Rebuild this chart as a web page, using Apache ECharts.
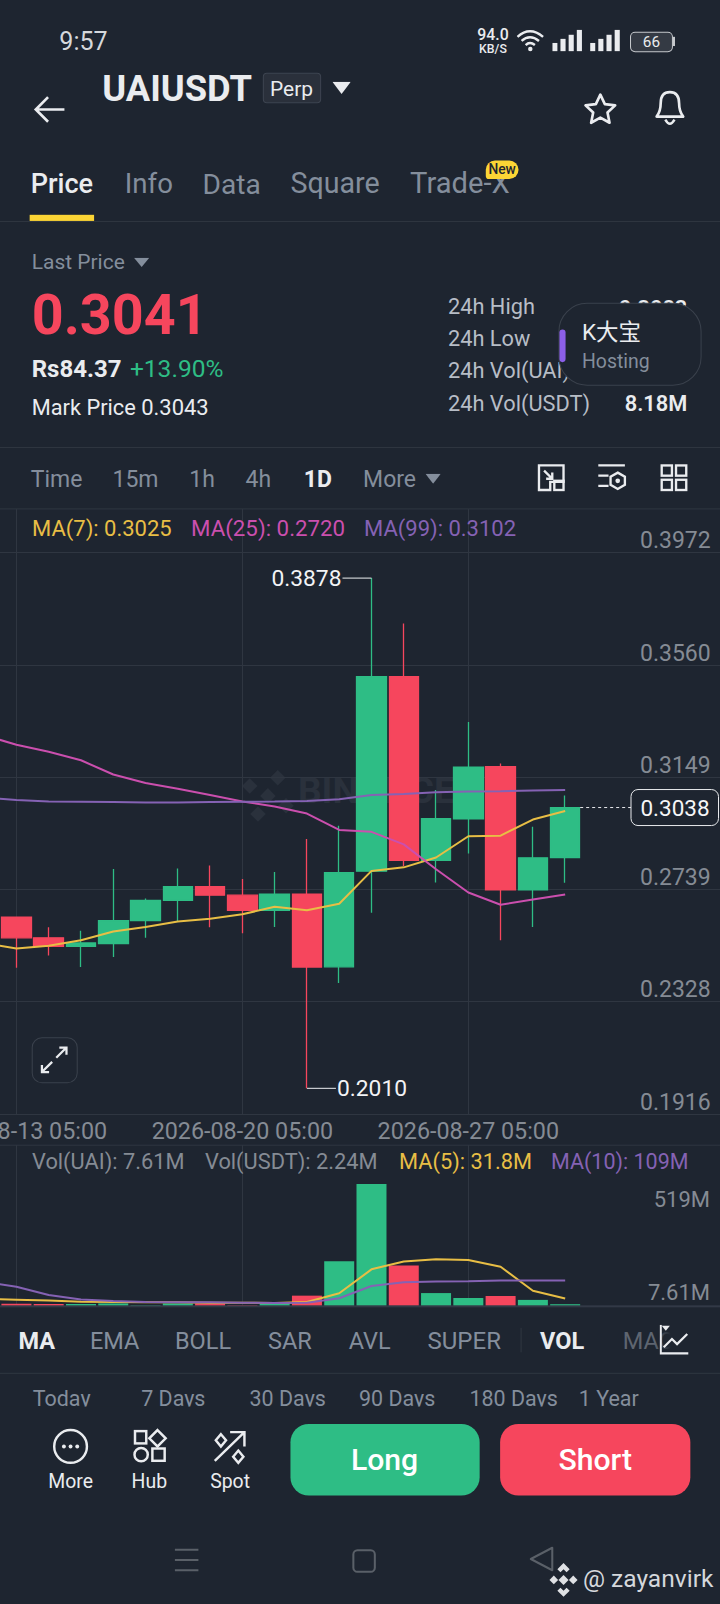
<!DOCTYPE html>
<html><head><meta charset="utf-8">
<style>
html,body{margin:0;padding:0;background:#1e2530;width:720px;height:1604px;overflow:hidden}
#chart{position:absolute;left:0;top:0;width:720px;height:1604px}
#ui{position:absolute;left:0;top:0;width:704px;height:1568px;transform:scale(1.02273,1.02296);transform-origin:0 0;pointer-events:none;font-family:Roboto,"Noto Sans CJK SC",sans-serif}
#ui div,#ui svg{position:absolute}
.t{white-space:nowrap;line-height:1}
</style></head><body>
<div id="chart"></div><div id="ui"></div>
<script src="https://cdn.jsdelivr.net/npm/echarts@6/dist/echarts.min.js"></script>
<script>
// ---------- chart data ----------
const dates = ["2026-08-12 05:00","2026-08-13 05:00","2026-08-14 05:00","2026-08-15 05:00","2026-08-16 05:00","2026-08-17 05:00","2026-08-18 05:00","2026-08-19 05:00","2026-08-20 05:00","2026-08-21 05:00","2026-08-22 05:00","2026-08-23 05:00","2026-08-24 05:00","2026-08-25 05:00","2026-08-26 05:00","2026-08-27 05:00","2026-08-28 05:00","2026-08-29 05:00","2026-08-30 05:00","2026-08-31 05:00","2026-09-01 05:00","2026-09-02 05:00","2026-09-03 05:00","2026-09-04 05:00"];
const xTickLabels = ["2026-08-13 05:00","2026-08-20 05:00","2026-08-27 05:00"];
const priceTicks = [0.1916,0.2328,0.2739,0.3149,0.3560,0.3972];
const volTicks = [519,7.61];
// open, close, low, high
const ohlc = [
 [0.2700,0.2637,0.2600,0.2750],
 [0.2637,0.2561,0.2451,0.2637],
 [0.2561,0.2530,0.2496,0.2600],
 [0.2530,0.2542,0.2454,0.2587],
 [0.2540,0.2624,0.2491,0.2813],
 [0.2624,0.2698,0.2561,0.2705],
 [0.2698,0.2748,0.2621,0.2815],
 [0.2748,0.2717,0.2600,0.2826],
 [0.2717,0.2662,0.2578,0.2776],
 [0.2662,0.2721,0.2601,0.2802],
 [0.2721,0.2454,0.2010,0.2923],
 [0.2455,0.2800,0.2396,0.2971],
 [0.2805,0.3517,0.2653,0.3878],
 [0.3517,0.2845,0.2824,0.3712],
 [0.2845,0.2997,0.2764,0.3102],
 [0.2997,0.3186,0.2870,0.3351],
 [0.3188,0.2737,0.2552,0.3199],
 [0.2737,0.2854,0.2601,0.2968],
 [0.2855,0.3038,0.2763,0.3082]
];
const ma7  = [0.2542,0.2522,0.2532,0.2552,0.2584,0.2601,0.2621,0.2631,0.2647,0.2675,0.2662,0.2686,0.2806,0.2819,0.2855,0.2933,0.2935,0.2994,0.3025];
const ma25 = [0.3303,0.3268,0.3242,0.3211,0.3159,0.3128,0.3107,0.3084,0.3060,0.3042,0.3016,0.2956,0.2949,0.2903,0.2812,0.2727,0.2682,0.2701,0.2720];
const ma99 = [0.3075,0.3066,0.3060,0.3059,0.3058,0.3056,0.3056,0.3058,0.3059,0.3060,0.3062,0.3068,0.3084,0.3088,0.3094,0.3097,0.3098,0.3100,0.3102];
const volumes = [30,10,8.5,8.5,11,3,11,11,3,13,44,190,519,172,55,34,43,26,7.61];
const volMa5  = [30,27,23,18,17,16,16,14,14,13,17,54,156,189,199,196,167,65,31.8];
const volMa10 = [102,82,47,28,21,17,16,16,14,13,14,33,85,101,104,105,108,109,109];
const lastPrice = 0.3038;

const BG='#1e2530',UP='#2ebd85',DOWN='#f6465d',GRID='#2f3641',AXIS='#858b94';
const YEL='#e8be45',PINK='#cb4fae',PUR='#8562b4',FONT='Roboto';

const chart = echarts.init(document.getElementById('chart'),null,{renderer:'svg'});
const lineS=(name,data,color,x,y)=>({name,type:'line',data,xAxisIndex:x,yAxisIndex:y,showSymbol:false,symbol:'none',smooth:false,lineStyle:{color,width:2},z:5,silent:true});
const xBase={type:'category',data:dates,boundaryGap:true,axisLine:{show:false},axisTick:{show:false},
  splitLine:{show:true,alignWithLabel:true,interval:(i,v)=>xTickLabels.includes(v),lineStyle:{color:GRID,width:1}}};
chart.setOption({
  animation:false,backgroundColor:BG,
  grid:[{left:-32,top:509,width:774.7,height:605,outerBoundsMode:'none',containLabel:false},{left:-32,top:1145,width:774.7,height:161,outerBoundsMode:'none',containLabel:false}],
  xAxis:[
    Object.assign({},xBase,{gridIndex:0,axisLabel:{show:true,interval:(i,v)=>xTickLabels.includes(v),color:AXIS,fontFamily:FONT,fontSize:23.3,margin:5,hideOverlap:false}}),
    Object.assign({},xBase,{gridIndex:1,axisLabel:{show:false}})
  ],
  yAxis:[
    {type:'value',gridIndex:0,min:0.1916,max:0.4131,position:'right',axisLine:{show:false},
     axisTick:{show:false,customValues:priceTicks},
     axisLabel:{inside:true,customValues:priceTicks,formatter:v=>v.toFixed(4),color:AXIS,fontFamily:FONT,fontSize:23,margin:32,verticalAlign:'bottom',lineHeight:23,padding:[0,0,0,0]},
     splitLine:{show:true,lineStyle:{color:GRID,width:1}}},
    {type:'value',gridIndex:1,min:0,max:685,position:'right',axisLine:{show:false},axisTick:{show:false,customValues:[0]},
     axisLabel:{show:false},splitLine:{show:false}}
  ],
  graphic:[
    {type:'text',left:298,top:772,z:0,silent:true,style:{text:'BINANCE',fill:'#2a313c',font:'bold 37px Roboto'}},
    {type:'group',left:242,top:770,z:0,silent:true,children:[
      {type:'rect',x:16,y:16,shape:{width:11,height:11},rotation:Math.PI/4,originX:21.5,originY:21.5,style:{fill:'#2a313c'}},
      {type:'rect',x:16,y:2,shape:{width:11,height:11},rotation:Math.PI/4,originX:21.5,originY:7.5,style:{fill:'#2a313c'}},
      {type:'rect',x:16,y:30,shape:{width:11,height:11},rotation:Math.PI/4,originX:21.5,originY:35.5,style:{fill:'#2a313c'}},
      {type:'rect',x:2,y:16,shape:{width:11,height:11},rotation:Math.PI/4,originX:7.5,originY:21.5,style:{fill:'#2a313c'}},
      {type:'rect',x:30,y:16,shape:{width:11,height:11},rotation:Math.PI/4,originX:35.5,originY:21.5,style:{fill:'#2a313c'}}
    ]},
    {type:'text',left:32,top:517,z:10,style:{text:'MA(7): 0.3025',fill:YEL,font:'22px Roboto'}},
    {type:'text',left:191,top:517,z:10,style:{text:'MA(25): 0.2720',fill:PINK,font:'22.3px Roboto'}},
    {type:'text',left:364,top:517,z:10,style:{text:'MA(99): 0.3102',fill:PUR,font:'22px Roboto'}},
    {type:'text',left:32,top:1150,z:10,style:{text:'Vol(UAI): 7.61M',fill:AXIS,font:'21.8px Roboto'}},
    {type:'text',left:205,top:1150,z:10,style:{text:'Vol(USDT): 2.24M',fill:AXIS,font:'21.8px Roboto'}},
    {type:'text',left:399,top:1150,z:10,style:{text:'MA(5): 31.8M',fill:YEL,font:'21.8px Roboto'}},
    {type:'text',left:551,top:1150,z:10,style:{text:'MA(10): 109M',fill:PUR,font:'21.5px Roboto'}}
  ],
  series:[
    {name:'K',type:'candlestick',data:ohlc,xAxisIndex:0,yAxisIndex:0,barWidth:30,z:3,silent:true,
     itemStyle:{color:UP,color0:DOWN,borderColor:UP,borderColor0:DOWN,borderWidth:1.3}},
    lineS('MA(7)',ma7,YEL,0,0),lineS('MA(25)',ma25,PINK,0,0),lineS('MA(99)',ma99,PUR,0,0),
    {name:'Extremes',type:'custom',coordinateSystem:'cartesian2d',xAxisIndex:0,yAxisIndex:0,z:6,silent:true,clip:false,
     data:[[ohlc.findIndex(d=>d[3]===Math.max(...ohlc.map(o=>o[3]))),Math.max(...ohlc.map(o=>o[3])),-1],
           [ohlc.findIndex(d=>d[2]===Math.min(...ohlc.map(o=>o[2]))),Math.min(...ohlc.map(o=>o[2])),1]],
     renderItem:(p,api)=>{const c=api.coord([api.value(0),api.value(1)]);const dir=api.value(2);
       return {type:'group',children:[
        {type:'line',shape:{x1:c[0],y1:c[1],x2:c[0]+dir*29,y2:c[1]},style:{stroke:'#eef0f2',lineWidth:1}},
        {type:'text',x:c[0]+dir*30,y:c[1],style:{text:api.value(1).toFixed(4),fill:'#f2f3f5',font:'22.8px Roboto',textAlign:dir<0?'right':'left',textVerticalAlign:'middle'}}
       ]};}},
    {name:'Last',type:'custom',coordinateSystem:'cartesian2d',xAxisIndex:0,yAxisIndex:0,z:7,silent:true,clip:false,
     data:[[ohlc.length-1,lastPrice]],
     renderItem:(p,api)=>{const c=api.coord([api.value(0),api.value(1)]);
       return {type:'group',children:[
        {type:'line',shape:{x1:c[0]+15,y1:c[1],x2:631,y2:c[1]},style:{stroke:'#e8eaed',lineWidth:1,lineDash:[3,3]}},
        {type:'rect',shape:{x:631,y:c[1]-18,width:87.5,height:36,r:7},style:{fill:BG,stroke:'#e8eaed',lineWidth:1}},
        {type:'text',x:675,y:c[1],style:{text:api.value(1).toFixed(4),fill:'#f5f6f7',font:'22.5px Roboto',textAlign:'center',textVerticalAlign:'middle'}}
       ]};}},
    {name:'Volume',type:'bar',data:volumes.map((v,i)=>({value:v,itemStyle:{color:ohlc[i][1]>=ohlc[i][0]?UP:DOWN}})),xAxisIndex:1,yAxisIndex:1,barWidth:30,z:3,silent:true},
    lineS('MA(5)',volMa5,YEL,1,1),lineS('MA(10)',volMa10,PUR,1,1),
    {name:'VolLabels',type:'custom',coordinateSystem:'cartesian2d',xAxisIndex:1,yAxisIndex:1,z:7,silent:true,clip:false,
     data:volTicks.map((v,i)=>[0,v,i===0?15:-12]),
     renderItem:(p,api)=>{const c=api.coord([0,api.value(1)]);const v=api.value(1);
       return {type:'text',x:710,y:c[1]+api.value(2),style:{text:(v>=100?v.toFixed(0):v.toFixed(2))+'M',fill:AXIS,font:'22px Roboto',textAlign:'right',textVerticalAlign:'middle'}};}}
  ]
});

// ---------- app chrome (text + icons) in 704x1568 design units ----------
const ui=document.getElementById('ui');
function T(s,x,y,size,color,weight,anchor){const d=document.createElement('div');d.className='t';d.textContent=s;
  d.style.cssText+=`font-size:${size}px;color:${color};font-weight:${weight||400};top:${y}px;`+
  (anchor==='r'?`right:${704-x}px;transform:translateY(-50%)`:anchor==='c'?`left:${x}px;transform:translate(-50%,-50%)`:`left:${x}px;transform:translateY(-50%)`);
  ui.appendChild(d);return d;}
function B(x,y,w,h,css){const d=document.createElement('div');d.style.cssText=`left:${x}px;top:${y}px;width:${w}px;height:${h}px;${css||''}`;ui.appendChild(d);return d;}
function S(x,y,w,h,inner){const n=document.createElementNS('http://www.w3.org/2000/svg','svg');n.setAttribute('viewBox',`0 0 ${w} ${h}`);n.setAttribute('width',w);n.setAttribute('height',h);n.style.left=x+'px';n.style.top=y+'px';n.innerHTML=inner;ui.appendChild(n);}
const W='#eaecef',G='#848e9c',LG='#b7bdc6';
// status bar
T('9:57',58,41,24.5,'#d5d8dc',400);
T('94.0',482,35,15.5,W,500,'c');T('KB/S',482,48,12,W,500,'c');
S(505,28,30,24,'<g fill="none" stroke="#eaecef" stroke-width="2.4"><path d="M1 8Q13 -3 26 8"/><path d="M5 12Q13 5 22 12"/><path d="M9 16Q13 12 18 16"/></g><circle cx="13.5" cy="20" r="2.2" fill="#eaecef"/>');
[540,577].forEach(x=>S(x,29,30,22,'<g fill="#eaecef"><rect x="0" y="13" width="5" height="8"/><rect x="8" y="9" width="5" height="12"/><rect x="16" y="5" width="5" height="16"/><rect x="24" y="0" width="5" height="21"/></g>'));
B(616,31,40,18,'border:1.4px solid #c5c8cc;border-radius:5px;background:#343a44');T('66',637,41,15,W,400,'c');B(658,36,2,9,'background:#c5c8cc');
// header
T('UAIUSDT',100,87,35.5,W,700);
B(257,71,55,28,'border:1px solid #3d4450;border-radius:4px;background:#2a303b');T('Perp',285,87,20.5,W,400,'c');
S(325,80,18,13,'<path d="M0 0H18L9 12Z" fill="#eaecef"/>');
S(32,92,34,30,'<path d="M31 15H3M15 3L3 15L15 27" fill="none" stroke="#eaecef" stroke-width="2.6"/>');
S(570,90,34,32,'<path d="M17 2.5L21.4 11.8L31.5 13L24 20L26 30L17 25L8 30L10 20L2.5 13L12.6 11.8Z" fill="none" stroke="#eaecef" stroke-width="2.6" stroke-linejoin="round"/>');
S(638,87,34,38,'<path d="M4 27Q8 22 8 14Q8 3 17 3Q26 3 26 14Q26 22 30 27Z" fill="none" stroke="#eaecef" stroke-width="2.6" stroke-linejoin="round"/><path d="M12.5 30Q17 38 21.5 30" fill="none" stroke="#eaecef" stroke-width="2.4"/>');
// tabs
T('Price',30,180,26.5,W,500);T('Info',122,180,27,G);T('Data',198,180,27.5,G);T('Square',284,180,28,G);T('Trade-X',401,180,28.5,G);
B(475,157,32,18,'background:#fcd535;border-radius:9px 9px 9px 3px');T('New',491,166,13.5,'#1e2530',500,'c');
B(29,210,63,6,'background:#fcd535');B(0,216,704,1,'background:#2f3641');
// price block
T('Last Price',31,256,20.5,G);S(131,252,15,9,'<path d="M0 0H15L7.5 9Z" fill="#848e9c"/>');
T('0.3041',31,308,54.5,'#f6465d',700);
T('Rs84.37',31,361,23.5,W,700);T('+13.90%',127,361,24,'#2ebd85',400);
T('Mark Price',31,398,21.3,W);T('0.3043',138,398,21.5,W);
T('24h High',438,300,21.3,LG);T('24h Low',438,331,21.3,LG);T('24h Vol(UAI)',438,362,21.3,LG);T('24h Vol(USDT)',438,394,21.3,LG);
T('0.3083',672,302,21.3,W,600,'r');T('8.18M',672,394,21.3,W,600,'r');
B(546,296,138,79,'background:#1e2530;border:1.5px solid #3a414c;border-radius:28px');
B(547,322,6,32,'background:#8c5fe8;border-radius:3px');
T('K大宝',569,325,22,W,400);T('Hosting',569,353,19,G);
B(0,437,704,1,'background:#2f3641');
// interval row
T('Time',30,468,22.5,G);T('15m',110,468,22.5,G);T('1h',185,468,22.5,G);T('4h',240,468,22.5,G);T('1D',297,468,22.5,W,700);T('More',355,468,22.5,G);
S(416,463,15,10,'<path d="M0 0H15L7.5 10Z" fill="#848e9c"/>');
S(525,453,28,28,'<g fill="none" stroke="#eaecef" stroke-width="2.3"><path d="M10 2H2V26H13V18H26V2Z"/><rect x="17" y="17" width="9" height="9"/><path d="M7 7L15 15M15 9V15H9"/></g>');
S(584,453,30,28,'<g fill="none" stroke="#eaecef" stroke-width="2.3"><path d="M1 2H27M1 12H11M1 22H11"/><path d="M20 9L27 13V21L20 25L13 21V13Z"/><circle cx="20" cy="17" r="2.3" fill="#eaecef" stroke="none"/></g>');
S(645,453,28,28,'<g fill="none" stroke="#eaecef" stroke-width="2.3"><rect x="2" y="2" width="10" height="10"/><rect x="16" y="2" width="10" height="10"/><rect x="2" y="16" width="10" height="10"/><rect x="16" y="16" width="10" height="10"/></g>');
B(0,497,704,1,'background:#2f3641');
// expand button
B(31,1014,43,43,'border:1.5px solid #3a414c;border-radius:10px');
S(38,1021,30,30,'<path d="M20 3H27V10M27 3L17 13M3 20V27H10M3 27L13 17" fill="none" stroke="#eaecef" stroke-width="2.2"/>');
// separators of the vol pane
B(0,1119,704,1,'background:#2f3641');
B(0,1275.6,704,2,'background:#323946');
// indicator row
T('MA',18,1311,23,W,700);T('EMA',88,1311,23,G);T('BOLL',171,1311,23,G);T('SAR',262,1311,23,G);T('AVL',341,1311,23,G);T('SUPER',418,1311,23.5,G);
B(509,1298,1,24,'background:#2f3641');T('VOL',528,1311,23,W,700);T('MACD',609,1311,23,'#5e6570');
B(640,1292,64,40,'background:linear-gradient(90deg,rgba(30,37,48,0),#1e2530 25%)');
S(645,1295,30,30,'<g fill="none" stroke="#eaecef" stroke-width="2.2"><path d="M1 0V28H28"/><path d="M4 22L12 14L17 19L27 9"/></g><path d="M2 1H10L6 6Z" fill="#eaecef"/>');
B(0,1342,704,1,'background:#2f3641');
// range row (clipped by the bottom bar)
T('Today',32,1368,21,G);T('7 Days',138,1368,21,G);T('30 Days',244,1368,21,G);T('90 Days',351,1368,21,G);T('180 Days',459,1368,21,G);T('1 Year',566,1368,21,G);
B(0,1375,704,193,'background:#1e2530');
// bottom actions
S(51,1396,36,36,'<circle cx="18" cy="18" r="16" fill="none" stroke="#eaecef" stroke-width="2.4"/><circle cx="11.5" cy="18" r="1.9" fill="#eaecef"/><circle cx="18" cy="18" r="1.9" fill="#eaecef"/><circle cx="24.5" cy="18" r="1.9" fill="#eaecef"/>');
S(129,1396,36,36,'<g fill="none" stroke="#eaecef" stroke-width="2.4"><rect x="3" y="3" width="11" height="12"/><path d="M25 2L33 10L25 18L17 10Z"/><circle cx="9" cy="26" r="6.5"/><rect x="20" y="20" width="12" height="12"/></g>');
S(207,1396,36,36,'<g fill="none" stroke="#eaecef" stroke-width="2.4"><path d="M3 32L32 4M18 4H32V18"/><path d="M9 6L14 12L9 18L4 12Z"/><path d="M26 22L31 28L26 34L21 28Z"/></g>');
T('More',69,1448,19,W,400,'c');T('Hub',146,1448,19,W,400,'c');T('Spot',225,1448,19,W,400,'c');
B(284,1392,185,70,'background:#2ebd85;border-radius:18px');T('Long',376,1428,29.5,'#fff',500,'c');
B(489,1392,186,70,'background:#f6465d;border-radius:18px');T('Short',582,1428,29.5,'#fff',500,'c');
// navigation bar + watermark
S(170,1513,25,24,'<path d="M1 2H24M1 12H24M1 22H24" stroke="#5a6068" stroke-width="2"/>');
S(344,1514,24,24,'<rect x="1.5" y="1.5" width="21" height="21" rx="4" fill="none" stroke="#5a6068" stroke-width="2"/>');
S(517,1511,25,26,'<path d="M23 2V24L2 13Z" fill="none" stroke="#5a6068" stroke-width="2" stroke-linejoin="round"/>');
S(536,1528,30,34,'<g fill="#dfe1e4"><path d="M15 0L21 6L18 9L15 6L12 9L9 6Z"/><path d="M15 33L21 27L18 24L15 27L12 24L9 27Z"/><rect x="11.5" y="13" width="7" height="7" transform="rotate(45 15 16.5)"/><rect x="2.5" y="13.5" width="6" height="6" transform="rotate(45 5.5 16.5)"/><rect x="21.5" y="13.5" width="6" height="6" transform="rotate(45 24.5 16.5)"/></g>');
T('@ zayanvirk',570,1543,24,'#d5d8dc',400);
</script>
</body></html>
